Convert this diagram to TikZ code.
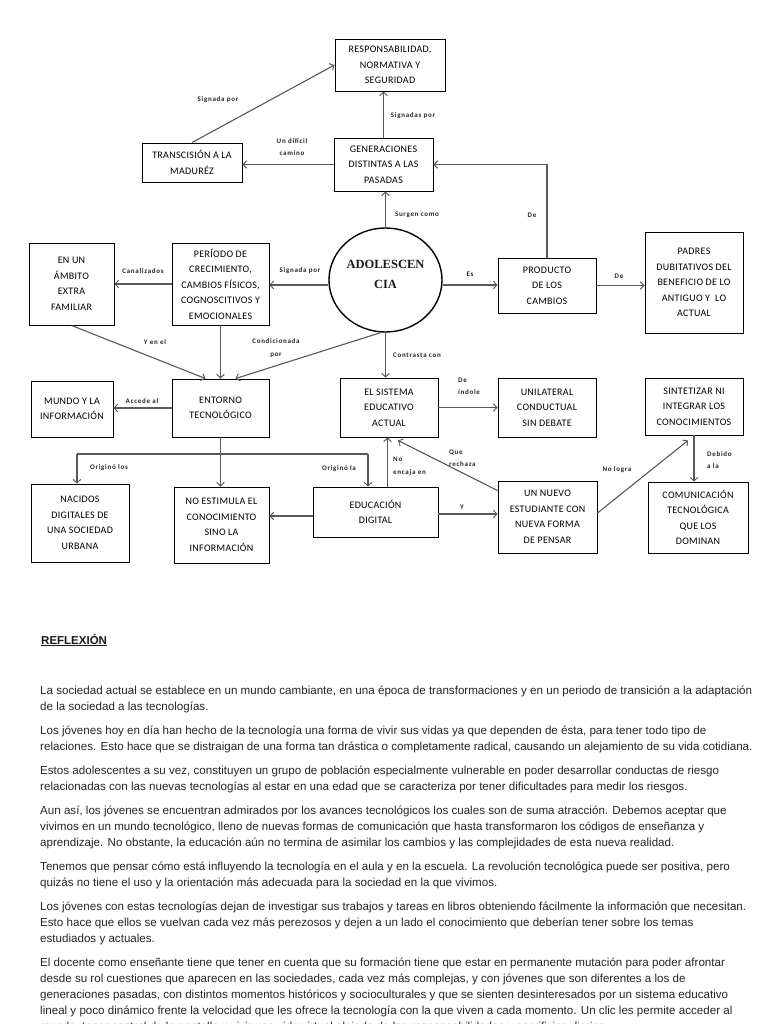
\documentclass[tikz,border=0pt]{standalone}
\usepackage{fontspec}
\setmainfont{Liberation Sans}
\newfontfamily\boxf[LetterSpace=3]{Carlito}
\newfontfamily\lblf[LetterSpace=10]{Carlito}
\newfontfamily\serf{Liberation Serif}
\usetikzlibrary{arrows.meta,shapes.geometric,calc}
\begin{document}
\begin{tikzpicture}[x=1pt,y=-1pt,
 box/.style={draw, line width=0.9pt, align=center, inner sep=0pt, font=\boxf\fontsize{10}{15.5}\selectfont},
 lbl/.style={font=\lblf\bfseries\fontsize{7}{12.5}\selectfont, inner sep=0pt, text=black!85},
 conn/.style={draw=black!65, line width=1.1pt, -{Straight Barb[length=3.5pt,width=7.5pt,line width=1pt]}},
 plainline/.style={draw=black!65, line width=1.1pt},
 para/.style={font=\fontsize{11.6}{16}\selectfont, text=black!85, align=left, inner sep=0pt, anchor=north west}
]
\useasboundingbox[fill=white] (0,0) rectangle (768,1024);

% boxes
\node[box, minimum width=110, minimum height=52] (resp) at (390,65) {RESPONSABILIDAD,\\NORMATIVA Y\\SEGURIDAD};
\node[box, minimum width=99, minimum height=53] (gen) at (383.5,164.5) {GENERACIONES\\DISTINTAS A LAS\\PASADAS};
\node[box, minimum width=100, minimum height=39] (trans) at (192,162.5) {TRANSCISIÓN A LA\\MADURÉZ};
\node[ellipse, draw, line width=1.4pt, minimum width=113, minimum height=104, inner sep=0pt] (adol) at (385.5,280) {};
\node[font=\serf\bfseries\fontsize{12.5}{20}\selectfont, align=center, text=black!90, inner sep=0pt] (adoltxt) at (385.5,274) {ADOLESCEN\\CIA};
\node[box, minimum width=97, minimum height=82] (per) at (220.5,284) {PERÍODO DE\\CRECIMIENTO,\\CAMBIOS FÍSICOS,\\COGNOSCITIVOS Y\\EMOCIONALES};
\node[box, minimum width=85, minimum height=82] (enun) at (71.5,284) {EN UN\\ÁMBITO\\EXTRA\\FAMILIAR};
\node[box, minimum width=98, minimum height=55] (prod) at (547,285.5) {PRODUCTO\\DE LOS\\CAMBIOS};
\node[box, minimum width=98, minimum height=101] (pad) at (694,282.5) {PADRES\\DUBITATIVOS DEL\\BENEFICIO DE LO\\ANTIGUO Y~ LO\\ACTUAL};
\node[box, minimum width=97, minimum height=58] (ent) at (220.5,408) {ENTORNO\\TECNOLÓGICO};
\node[box, minimum width=82, minimum height=56] (mundo) at (72,409) {MUNDO Y LA\\INFORMACIÓN};
\node[box, minimum width=98, minimum height=59] (sis) at (389,407.5) {EL SISTEMA\\EDUCATIVO\\ACTUAL};
\node[box, minimum width=98, minimum height=59] (unil) at (547,407.5) {UNILATERAL\\CONDUCTUAL\\SIN DEBATE};
\node[box, minimum width=98, minimum height=57] (sint) at (694,406.5) {SINTETIZAR NI\\INTEGRAR LOS\\CONOCIMIENTOS};
\node[box, minimum width=98, minimum height=78] (nac) at (80,523) {NACIDOS\\DIGITALES DE\\UNA SOCIEDAD\\URBANA};
\node[box, minimum width=95, minimum height=76] (nost) at (221.5,525) {NO ESTIMULA EL\\CONOCIMIENTO\\SINO LA\\INFORMACIÓN};
\node[box, minimum width=125, minimum height=50] (edu) at (375.5,512) {EDUCACIÓN\\DIGITAL};
\node[box, minimum width=99, minimum height=72] (nuevo) at (547.5,517) {UN NUEVO\\ESTUDIANTE CON\\NUEVA FORMA\\DE PENSAR};
\node[box, minimum width=100, minimum height=71] (com) at (698,517.5) {COMUNICACIÓN\\TECNOLÓGICA\\QUE LOS\\DOMINAN};

% connectors
\draw[conn] (trans.north) -- (resp.west);
\draw[conn] (gen.north) -- (gen.north |- resp.south);
\draw[conn] (gen.west) -- (gen.west -| trans.east);
\draw[conn] (adol.north) -- (adol.north |- gen.south);
\draw[conn] (prod.north) |- (gen.east);
\coordinate (ae) at ($(adol.east)+(0,5)$);
\draw[conn] (ae) -- (ae -| prod.west);
\draw[conn] (prod.east) -- (prod.east -| pad.west);
\coordinate (aw) at ($(adol.west)+(0,5)$);
\draw[conn] (aw) -- (aw -| per.east);
\draw[conn] (per.west) -- (per.west -| enun.east);
\draw[conn] (enun.south) -- ($(ent.north)+(-15,0)$);
\draw[conn] (per.south) -- (per.south |- ent.north);
\draw[conn] ($(adol.south)+(-5,0)$) -- ($(ent.north)+(15,0)$);
\draw[conn] (adol.south) -- (adol.south |- sis.north);
\draw[conn] (ent.west) -- (ent.west -| mundo.east);
\draw[conn] (ent.south) -- (ent.south |- nost.north);
\coordinate (jl) at (77,454);
\coordinate (jr) at (368,454);
\draw[plainline] (jl) -- (jr);
\draw[conn] (jl) -- (jl |- nac.north);
\draw[conn] (jr) -- (jr |- edu.north);
\coordinate (ew) at ($(edu.west)+(0,4)$);
\draw[conn] (ew) -- (ew -| nost.east);
\coordinate (en) at ($(edu.north)+(12,0)$);
\draw[conn] (en) -- (en |- sis.south);
\draw[conn] ($(nuevo.north west)+(0,10)$) -- ($(sis.south)+(9,3)$);
\coordinate (ee) at ($(edu.east)+(0,2)$);
\draw[conn] (ee) -- (ee -| nuevo.west);
\draw[conn] ($(nuevo.east)+(0,-4)$) -- ($(sint.south)+(-6,5)$);
\draw[conn] (sint.south) -- (sint.south |- com.north);
\draw[conn] (sis.east) -- (sis.east -| unil.west);

% labels
\node[lbl] (l1) at (218,100) {Signada por};
\node[lbl] (l2) at (413,116) {Signadas por};
\node[lbl, align=center] (l3) at (292,147) {Un difícil\\camino};
\node[lbl] (l4) at (417,215) {Surgen como};
\node[lbl] (l5) at (532,215) {De};
\node[lbl] (l6) at (470,274) {Es};
\node[lbl] (l7) at (619,276) {De};
\node[lbl] (l8) at (300,271) {Signada por};
\node[lbl] (l9) at (143,271) {Canalizados};
\node[lbl] (l10) at (155,342) {Y en el};
\node[lbl, align=center] (l11) at (276,348) {Condicionada\\por};
\node[lbl] (l12) at (417,355) {Contrasta con};
\node[lbl, align=left, anchor=west] (l13) at (458,386.5) {De\\índole};
\node[lbl] (l14) at (142,401) {Accede al};
\node[lbl] (l15) at (109,468) {Originó los};
\node[lbl] (l16) at (339,469) {Originó la};
\node[lbl, align=left, anchor=west] (l17) at (393,466.5) {No\\encaja en};
\node[lbl, align=left, anchor=west] (l18) at (449,458) {Que\\rechaza};
\node[lbl] (l19) at (462,507) {Y};
\node[lbl] (l20) at (617,470) {No logra};
\node[lbl, align=left, anchor=west] (l21) at (707,460) {Debido\\a la};

% reflection text
\node[font=\bfseries\fontsize{11.5}{14}\selectfont, text=black!90, inner sep=0pt, anchor=base west] (refl) at (41,644) {\underline{REFLEXIÓN}};
\node[para] (txt) at (40,682.8) {\strut La sociedad actual se establece en un mundo cambiante, en una época de transformaciones y en un periodo de transición a la adaptación\\
de la sociedad a las tecnologías.\\[8pt]
Los jóvenes hoy en día han hecho de la tecnología una forma de vivir sus vidas ya que dependen de ésta, para tener todo tipo de\\
relaciones. Esto hace que se distraigan de una forma tan drástica o completamente radical, causando un alejamiento de su vida cotidiana.\\[8pt]
Estos adolescentes a su vez, constituyen un grupo de población especialmente vulnerable en poder desarrollar conductas de riesgo\\
relacionadas con las nuevas tecnologías al estar en una edad que se caracteriza por tener dificultades para medir los riesgos.\\[8pt]
Aun así, los jóvenes se encuentran admirados por los avances tecnológicos los cuales son de suma atracción. Debemos aceptar que\\
vivimos en un mundo tecnológico, lleno de nuevas formas de comunicación que hasta transformaron los códigos de enseñanza y\\
aprendizaje. No obstante, la educación aún no termina de asimilar los cambios y las complejidades de esta nueva realidad.\\[8pt]
Tenemos que pensar cómo está influyendo la tecnología en el aula y en la escuela. La revolución tecnológica puede ser positiva, pero\\
quizás no tiene el uso y la orientación más adecuada para la sociedad en la que vivimos.\\[8pt]
Los jóvenes con estas tecnologías dejan de investigar sus trabajos y tareas en libros obteniendo fácilmente la información que necesitan.\\
Esto hace que ellos se vuelvan cada vez más perezosos y dejen a un lado el conocimiento que deberían tener sobre los temas\\
estudiados y actuales.\\[8pt]
El docente como enseñante tiene que tener en cuenta que su formación tiene que estar en permanente mutación para poder afrontar\\
desde su rol cuestiones que aparecen en las sociedades, cada vez más complejas, y con jóvenes que son diferentes a los de\\
generaciones pasadas, con distintos momentos históricos y socioculturales y que se sienten desinteresados por un sistema educativo\\
lineal y poco dinámico frente la velocidad que les ofrece la tecnología con la que viven a cada momento. Un clic les permite acceder al\\
mundo, tener control de la pantalla y vivir una vida virtual alejada de las responsabilidades y sacrificios diarios.};
\end{tikzpicture}
\end{document}
